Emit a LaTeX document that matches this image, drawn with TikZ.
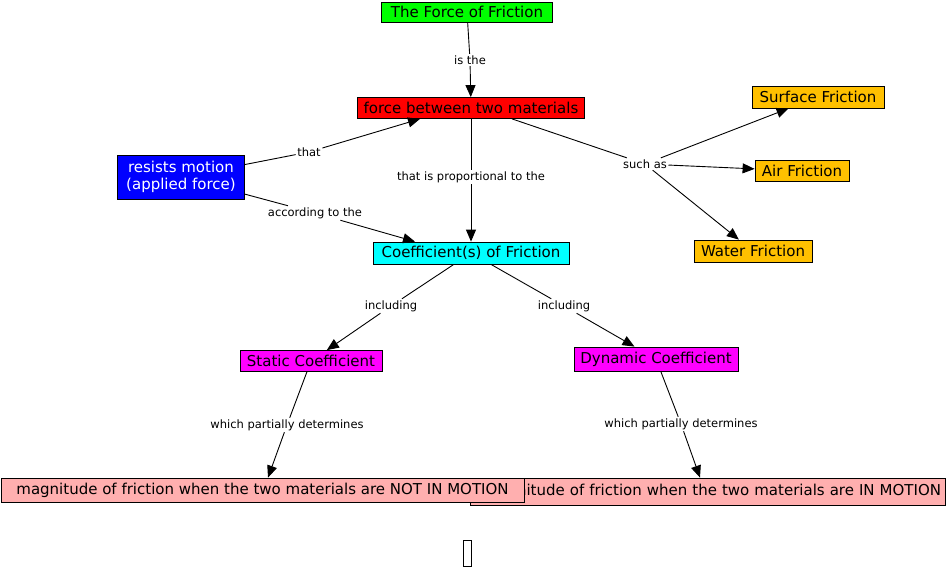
\documentclass[tikz,border=0pt]{standalone}
\usepackage{fontspec}
\setmainfont{DejaVu Sans}
\usetikzlibrary{arrows.meta, positioning}

\definecolor{conceptgreen}{HTML}{00FF00}
\definecolor{conceptred}{HTML}{FF0000}
\definecolor{conceptblue}{HTML}{0000FF}
\definecolor{conceptcyan}{HTML}{00FFFF}
\definecolor{conceptorange}{HTML}{FFC000}
\definecolor{conceptmagenta}{HTML}{FF00FF}
\definecolor{conceptpink}{HTML}{FFAFAF}

\begin{document}
\begin{tikzpicture}[
    x=1pt, y=-1pt,
    concept/.style={rectangle, draw=black, line width=0.8pt, inner sep=2pt, align=center, font=\fontsize{15}{17}\selectfont},
    linkword/.style={fill=white, inner sep=1.5pt, font=\fontsize{11.5}{13}\selectfont},
    arrow/.style={-{Triangle[length=12pt, width=10pt]}, line width=0.9pt},
    line/.style={line width=0.9pt}
]
\useasboundingbox (0,0) rectangle (947,568);

% Concepts
\node[concept, fill=conceptgreen, minimum width=171pt, minimum height=20pt] (friction) at (467,12) {The Force of Friction};
\node[concept, fill=conceptred, minimum width=227pt, minimum height=21pt] (between) at (471,108) {force between two materials};
\node[concept, fill=conceptblue, text=white, minimum width=127pt, minimum height=44pt] (resists) at (181,177) {resists motion\\(applied force)};
\node[concept, fill=conceptcyan, minimum width=196pt, minimum height=22pt] (coeff) at (471,253) {Coefficient(s) of Friction};
\node[concept, fill=conceptorange, minimum width=132pt, minimum height=22pt] (surface) at (818,97) {Surface Friction};
\node[concept, fill=conceptorange, minimum width=94pt, minimum height=21pt] (air) at (802,171) {Air Friction};
\node[concept, fill=conceptorange, minimum width=118pt, minimum height=22pt] (water) at (753,251) {Water Friction};
\node[concept, fill=conceptmagenta, minimum width=142pt, minimum height=21pt] (static) at (311,361) {Static Coefficient};
\node[concept, fill=conceptmagenta, minimum width=164pt, minimum height=24pt] (dynamic) at (656,359) {Dynamic Coefficient};
\node[concept, fill=conceptpink, minimum width=475pt, minimum height=27pt, text width=467pt, align=right] (inmotion) at (707.5,491.5) {magnitude of friction when the two materials are IN MOTION};
\node[concept, fill=conceptpink, minimum width=523pt, minimum height=24pt, inner sep=1pt] (notmotion) at (262.5,490) {magnitude of friction when the two materials are NOT IN MOTION};
\node[rectangle, draw=black, line width=0.8pt, fill=white, minimum width=8pt, minimum height=26pt, inner sep=0pt] (empty) at (467,553) {};

% Linking words
\node[linkword] (isthe) at (470,60) {is the};
\node[linkword] (that) at (309,152) {that};
\node[linkword] (according) at (315,213) {according to the};
\node[linkword] (proportional) at (471,177) {that is proportional to the};
\node[linkword] (suchas) at (645,164) {such as};
\node[linkword] (incl1) at (391,306) {including};
\node[linkword] (incl2) at (564,306) {including};
\node[linkword] (determ1) at (287,425) {which partially determines};
\node[linkword] (determ2) at (681,424) {which partially determines};

% Connections
\draw[line] (friction) -- (isthe);
\draw[arrow] (isthe) -- (between);
\draw[line] (resists) -- (that);
\draw[arrow] (that) -- (between.south west -| 420,118);
\draw[line] (resists) -- (according);
\draw[arrow] (according) -- (coeff.north west -| 415,242);
\draw[line] (between) -- (proportional);
\draw[arrow] (proportional) -- (coeff);
\draw[line] (between.south east -| 512,118) -- (suchas);
\draw[arrow] (suchas) -- (surface);
\draw[arrow] (suchas) -- (air);
\draw[arrow] (suchas) -- (water);
\draw[line] (coeff) -- (incl1);
\draw[arrow] (incl1) -- (static);
\draw[line] (coeff) -- (incl2);
\draw[arrow] (incl2) -- (dynamic);
\draw[line] (static) -- (determ1);
\draw[arrow] (determ1) -- (notmotion.north -| 268,478);
\draw[line] (dynamic) -- (determ2);
\draw[arrow] (determ2) -- (inmotion.north -| 700,478);

\end{tikzpicture}
\end{document}
